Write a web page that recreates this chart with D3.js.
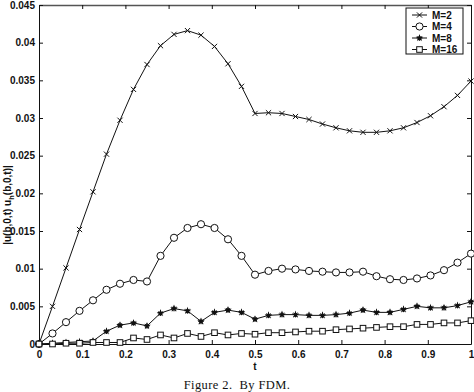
<!DOCTYPE html>
<html>
<head>
<meta charset="utf-8">
<script src="https://cdn.jsdelivr.net/npm/d3@7"></script>
<style>
html,body{margin:0;padding:0;background:#fff;}
svg{display:block;}
</style>
</head>
<body>
<svg id="chart" width="474" height="392"></svg>
<script>
const t = [0,0.03125,0.0625,0.09375,0.125,0.15625,0.1875,0.21875,0.25,0.28125,0.3125,0.34375,0.375,0.40625,0.4375,0.46875,0.5,0.53125,0.5625,0.59375,0.625,0.65625,0.6875,0.71875,0.75,0.78125,0.8125,0.84375,0.875,0.90625,0.9375,0.96875,1];
const M2 = [0,0.0050,0.0101,0.0152,0.0202,0.0252,0.0297,0.0338,0.0371,0.0396,0.0411,0.0416,0.0410,0.0395,0.0372,0.0342,0.0306,0.0307,0.0306,0.0302,0.0298,0.0292,0.0287,0.0283,0.0281,0.0281,0.0283,0.0287,0.0294,0.0303,0.0315,0.0330,0.0349];
const M4 = [0,0.0014,0.0029,0.0044,0.0058,0.0072,0.0080,0.0085,0.0083,0.0117,0.0141,0.0154,0.0159,0.0154,0.0139,0.0117,0.0092,0.0097,0.0100,0.0099,0.0097,0.0096,0.0095,0.0095,0.0096,0.0090,0.0086,0.0085,0.0087,0.0091,0.0098,0.0108,0.0120];
const M8 = [0,0.0001,0.0002,0.0003,0.0004,0.0017,0.0025,0.0028,0.0024,0.0041,0.0047,0.0044,0.0030,0.0042,0.0045,0.0042,0.0033,0.0038,0.0039,0.0039,0.0038,0.0038,0.0039,0.0041,0.0045,0.0042,0.0042,0.0046,0.0050,0.0048,0.0048,0.0051,0.0056];
const M16 = [0,0.0000,0.0001,0.0001,0.0002,0.0002,0.0002,0.0008,0.0006,0.0012,0.0008,0.0014,0.0010,0.0015,0.0012,0.0014,0.0013,0.0015,0.0015,0.0016,0.0017,0.0017,0.0019,0.0020,0.0021,0.0022,0.0023,0.0023,0.0026,0.0026,0.0028,0.0028,0.0031];
const seriesNames = ["M=2","M=4","M=8","M=16"];
const markerTypes = ["cross","circle","star","square"];
const xTicks = [0,0.1,0.2,0.3,0.4,0.5,0.6,0.7,0.8,0.9,1];
const xTickLabels = ["0","0.1","0.2","0.3","0.4","0.5","0.6","0.7","0.8","0.9","1"];
const yTicks = [0,0.005,0.01,0.015,0.02,0.025,0.03,0.035,0.04,0.045];
const yTickLabels = ["0","0.005","0.01","0.015","0.02","0.025","0.03","0.035","0.04","0.045"];

const seriesValues = [M2,M4,M8,M16];
const svg = d3.select("#chart");
const L = 39, R = 471, T = 5, B = 344;
const x = d3.scaleLinear().domain([0,1]).range([L,R]);
const y = d3.scaleLinear().domain([0,0.045]).range([B,T]);
const ink = "#111";
const tickFont = "bold 10px 'Liberation Sans', Arial, sans-serif";

// axes
const gx = svg.append("g").attr("transform",`translate(0,${B})`)
  .call(d3.axisBottom(x).tickValues(xTicks).tickFormat((d,i)=>xTickLabels[i]).tickSizeInner(-4).tickSizeOuter(0).tickPadding(7));
const gxt = svg.append("g").attr("transform",`translate(0,${T})`)
  .call(d3.axisTop(x).tickValues(xTicks).tickFormat("").tickSizeInner(-4).tickSizeOuter(0));
const gy = svg.append("g").attr("transform",`translate(${L},0)`)
  .call(d3.axisLeft(y).tickValues(yTicks).tickFormat((d,i)=>yTickLabels[i]).tickSizeInner(-4).tickSizeOuter(0).tickPadding(4));
const gyr = svg.append("g").attr("transform",`translate(${R},0)`)
  .call(d3.axisRight(y).tickValues(yTicks).tickFormat("").tickSizeInner(-4).tickSizeOuter(0));
[gx,gxt,gy,gyr].forEach(g=>{
  g.selectAll("path.domain").attr("stroke",ink).attr("stroke-width",1);
  g.selectAll(".tick line").attr("stroke",ink).attr("stroke-width",1);
  g.selectAll("text").style("font",tickFont).attr("fill",ink);
});
gxt.select("path.domain").attr("stroke","#555").attr("stroke-width",1.6);

// lines and markers
const line = d3.line().x((d,i)=>x(t[i])).y(d=>y(d));
function drawMarker(g, type, cx, cy){
  if(type==="cross"){
    const s=2.6;
    g.append("path").attr("d",`M${cx-s},${cy-s}L${cx+s},${cy+s}M${cx-s},${cy+s}L${cx+s},${cy-s}`).attr("stroke",ink).attr("stroke-width",1).attr("fill","none");
  } else if(type==="circle"){
    g.append("circle").attr("cx",cx).attr("cy",cy).attr("r",3.6).attr("fill","#fff").attr("stroke",ink).attr("stroke-width",1);
  } else if(type==="star"){
    g.append("path").attr("d",d3.symbol(d3.symbolStar,18)()).attr("transform",`translate(${cx},${cy})`).attr("fill",ink);
    const s=2.8;
    g.append("path").attr("d",`M${cx-s},${cy}L${cx+s},${cy}M${cx},${cy-s}L${cx},${cy+s}M${cx-2},${cy-2}L${cx+2},${cy+2}M${cx-2},${cy+2}L${cx+2},${cy-2}`).attr("stroke",ink).attr("stroke-width",1);
  } else {
    const s=2.8;
    g.append("rect").attr("x",cx-s).attr("y",cy-s).attr("width",2*s).attr("height",2*s).attr("fill","#fff").attr("stroke",ink).attr("stroke-width",1);
  }
}
seriesValues.forEach((vals,si)=>{
  const g = svg.append("g");
  g.append("path").datum(vals).attr("d",line).attr("fill","none").attr("stroke",ink).attr("stroke-width",1);
  vals.forEach((v,i)=>drawMarker(g, markerTypes[si], x(t[i]), y(v)));
});

// legend
const lg = svg.append("g");
lg.append("rect").attr("x",406).attr("y",8).attr("width",57).attr("height",46).attr("fill","#fff").attr("stroke",ink).attr("stroke-width",1);
seriesNames.forEach((n,i)=>{
  const yy = 15 + i*11.5;
  lg.append("line").attr("x1",412).attr("x2",427).attr("y1",yy).attr("y2",yy).attr("stroke",ink).attr("stroke-width",1);
  drawMarker(lg, markerTypes[i], 419.5, yy);
  lg.append("text").attr("x",432).attr("y",yy+3.6).text(n).style("font",tickFont).attr("fill",ink);
});

// labels
svg.append("text").attr("x",255).attr("y",370).attr("text-anchor","middle").text("t").style("font",tickFont).attr("fill",ink);
const yl = svg.append("text").attr("transform","translate(11,205) rotate(-90)").attr("text-anchor","middle").style("font",tickFont).attr("fill",ink);
yl.append("tspan").text("|u(b,0,t) u");
yl.append("tspan").attr("dy",2.5).style("font-size","7.5px").text("h");
yl.append("tspan").attr("dy",-2.5).text("(b,0,t)|");
svg.append("text").attr("x",237).attr("y",389).attr("text-anchor","middle").text("Figure 2.  By FDM.").style("font","12.5px 'Liberation Serif', 'Times New Roman', serif").style("letter-spacing","0.4px").attr("fill",ink).attr("xml:space","preserve").style("white-space","pre");
</script>
</body>
</html>
